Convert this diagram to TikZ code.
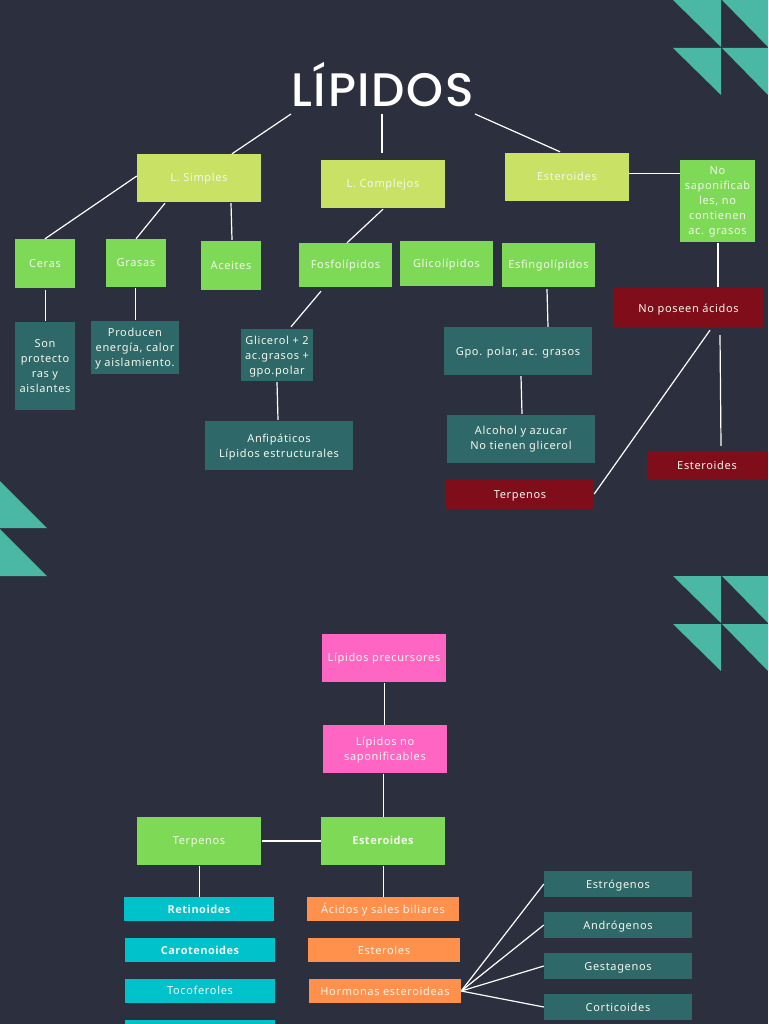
\documentclass[tikz,border=0pt]{standalone}
\usepackage{fontspec}
\setmainfont{Noto Sans}[LetterSpace=6]
\newfontfamily\boldlabel{Open Sans}[LetterSpace=4.5]
\newfontfamily\titlefont{Poppins Medium}[LetterSpace=3.5]
\definecolor{bg}{HTML}{2C2F3E}
\definecolor{tri}{HTML}{4AB8A5}
\definecolor{limeb}{HTML}{C9E265}
\definecolor{greenb}{HTML}{7ED957}
\definecolor{tealb}{HTML}{2F6868}
\definecolor{redb}{HTML}{7F0D1A}
\definecolor{pinkb}{HTML}{FF66C4}
\definecolor{cyanb}{HTML}{00C2CB}
\definecolor{orangeb}{HTML}{FF914D}
\definecolor{txt}{HTML}{F4F7EC}
\tikzset{
  x=1pt,y=-1pt,
  box/.style={inner sep=0pt,align=center,text=txt,text height=9.5pt,text depth=1.5pt,font=\fontsize{11}{15}\selectfont},
  limebox/.style={box,fill=limeb},
  greenbox/.style={box,fill=greenb,text depth=2.5pt},
  tealbox/.style={box,fill=tealb},
  redbox/.style={box,fill=redb},
  pinkbox/.style={box,fill=pinkb,text depth=2.5pt},
  cyanbox/.style={box,fill=cyanb},
  orangebox/.style={box,fill=orangeb},
  multi/.style={text height=,text depth=},
  multilow/.style={text height=,text depth=0pt},
  link/.style={draw=white,line width=1.2pt},
  triangle/.style={fill=tri},
}
\begin{document}
\begin{tikzpicture}
\clip (0,0) rectangle (768,1024);
\fill[bg] (0,0) rectangle (768,1024);
% decorative triangles
\fill[triangle] (673,0) -- (721,0) -- (721,47) -- cycle;
\fill[triangle] (722,0) -- (768,0) -- (768,47) -- cycle;
\fill[triangle] (673,48) -- (721,48) -- (721,95) -- cycle;
\fill[triangle] (722,48) -- (768,48) -- (768,95) -- cycle;
\fill[triangle] (673,576) -- (721,576) -- (721,623) -- cycle;
\fill[triangle] (722,576) -- (768,576) -- (768,623) -- cycle;
\fill[triangle] (673,624) -- (721,624) -- (721,671) -- cycle;
\fill[triangle] (722,624) -- (768,624) -- (768,671) -- cycle;
\fill[triangle] (0,481) -- (47,528) -- (0,528) -- cycle;
\fill[triangle] (0,529) -- (47,576) -- (0,576) -- cycle;
% title
\node[inner sep=0pt,text=white,minimum width=184pt,minimum height=54pt,font=\titlefont\fontsize{47}{50}\selectfont] (title) at (382.5,85) {LÍPIDOS};
\coordinate (titlesw) at (291,114);
\coordinate (titles) at (382,114);
\coordinate (titlese) at (475,114);
% top part
\node[limebox,minimum width=124pt,minimum height=48pt] (simple) at (199,178) {L. Simples};
\node[limebox,minimum width=124pt,minimum height=48pt] (complejos) at (383,184) {L. Complejos};
\node[limebox,minimum width=124pt,minimum height=48pt] (esteroides) at (567,177) {Esteroides};
\node[greenbox,multilow,minimum width=75pt,minimum height=82pt] (nosap) at (717.5,201) {No\\saponificab\\les, no\\contienen\\ac. grasos};
\node[greenbox,minimum width=60pt,minimum height=49pt] (ceras) at (45,263.5) {Ceras};
\node[greenbox,minimum width=60pt,minimum height=48pt] (grasas) at (136,263) {Grasas};
\node[greenbox,minimum width=60pt,minimum height=49pt] (aceites) at (231,265.5) {Aceites};
\node[greenbox,minimum width=93pt,minimum height=44pt] (fosfo) at (345.5,265) {Fosfolípidos};
\node[greenbox,minimum width=93pt,minimum height=45pt] (glico) at (446.5,263.5) {Glicolípidos};
\node[greenbox,minimum width=93pt,minimum height=44pt] (esfingo) at (548.5,265) {Esfingolípidos};
\node[tealbox,multi,minimum width=60pt,minimum height=88pt] (son) at (45,366) {Son\\protecto\\ras y\\aislantes};
\node[tealbox,multilow,minimum width=88pt,minimum height=53pt] (producen) at (135,347.5) {Producen\\energía, calor\\y aislamiento.};
\node[tealbox,multilow,text depth=-1pt,minimum width=72pt,minimum height=52pt] (glicerol) at (277,355) {Glicerol + 2\\ac.grasos +\\gpo.polar};
\node[tealbox,multilow,minimum width=148pt,minimum height=49pt] (anfi) at (279,445.5) {Anfipáticos\\Lípidos estructurales};
\node[tealbox,minimum width=148pt,minimum height=48pt] (gpo) at (518,351) {Gpo. polar, ac. grasos};
\node[tealbox,multi,minimum width=148pt,minimum height=48pt] (alcohol) at (521,439) {Alcohol y azucar\\No tienen glicerol};
\node[redbox,minimum width=148pt,minimum height=29pt] (terpenos) at (520,494.5) {Terpenos};
\node[redbox,minimum width=149pt,minimum height=40pt] (noposeen) at (688.5,308) {No poseen ácidos};
\node[redbox,minimum width=120pt,minimum height=28pt] (est2) at (707,465) {Esteroides};
% bottom part
\node[pinkbox,minimum width=124pt,minimum height=48pt] (precursores) at (384,658) {Lípidos precursores};
\node[pinkbox,multilow,minimum width=124pt,minimum height=48pt] (nosapb) at (385,749) {Lípidos no\\saponificables};
\node[greenbox,minimum width=124pt,minimum height=48pt] (terpb) at (199,841) {Terpenos};
\node[greenbox,minimum width=124pt,minimum height=48pt] (estb) at (383,841) {\boldlabel\bfseries Esteroides};
\node[cyanbox,minimum width=150pt,minimum height=24pt] (retin) at (199,909) {\boldlabel\bfseries Retinoides};
\node[cyanbox,minimum width=150pt,minimum height=24pt] (carot) at (200,950) {\boldlabel\bfseries Carotenoides};
\node[cyanbox,minimum width=150pt,minimum height=24pt,text depth=2.5pt] (toco) at (200,991) {Tocoferoles};
\node[cyanbox,minimum width=150pt,minimum height=24pt] (cyanlast) at (200,1032) {};
\node[orangebox,minimum width=152pt,minimum height=24pt] (acidos) at (383,909) {Ácidos y sales biliares};
\node[orangebox,minimum width=152pt,minimum height=24pt] (esteroles) at (384,950) {Esteroles};
\node[orangebox,minimum width=152pt,minimum height=24pt] (hormonas) at (385,991) {Hormonas esteroideas};
\node[tealbox,minimum width=148pt,minimum height=26pt] (estro) at (618,884) {Estrógenos};
\node[tealbox,minimum width=148pt,minimum height=26pt] (andro) at (618,925) {Andrógenos};
\node[tealbox,minimum width=148pt,minimum height=26pt] (gesta) at (618,966) {Gestagenos};
\node[tealbox,minimum width=148pt,minimum height=26pt] (cortico) at (618,1007) {Corticoides};
% connectors (the reference leaves small gaps at the ends)
\draw[link] (titlesw) -- ([xshift=33pt]simple.north);
\draw[link] (titles) -- ([yshift=7pt,xshift=-1pt]complejos.north);
\draw[link] (titlese) -- ([xshift=-7pt,yshift=1pt]esteroides.north);
\draw[link] ([yshift=2pt]simple.west) -- (ceras.north);
\draw[link] ([xshift=-34pt,yshift=-1pt]simple.south) -- (grasas.north);
\draw[link] ([xshift=32pt,yshift=-1pt]simple.south) -- ([xshift=1pt,yshift=1pt]aceites.north);
\draw[link] ([yshift=-1pt]complejos.south) -- ([xshift=1.5pt]fosfo.north);
\draw[link,line width=1pt] ([yshift=3pt]esteroides.east) -- ([yshift=27pt]nosap.west);
\draw[link,line width=1pt] ([yshift=-2pt]ceras.south) -- ([yshift=1pt]son.north);
\draw[link,line width=1pt] ([xshift=-1pt,yshift=-1pt]grasas.south) -- ([yshift=1pt]producen.north);
\draw[link] ([xshift=-24.5pt,yshift=-4pt]fosfo.south) -- ([xshift=14pt,yshift=2pt]glicerol.north);
\draw[link] ([yshift=-1pt]glicerol.south) -- ([xshift=-1pt,yshift=1pt]anfi.north);
\draw[link] ([xshift=-1.5pt,yshift=-2pt]esfingo.south) -- ([xshift=30pt]gpo.north);
\draw[link] ([xshift=3pt,yshift=-1pt]gpo.south) -- ([xshift=1pt,yshift=1pt]alcohol.north);
\draw[link] ([xshift=.5pt,yshift=-1pt]nosap.south) -- ([xshift=29.5pt,yshift=1pt]noposeen.north);
\draw[link] ([xshift=21.5pt,yshift=-2pt]noposeen.south) -- ([yshift=.5pt]terpenos.east);
\draw[link] ([xshift=31.5pt,yshift=-7pt]noposeen.south) -- ([xshift=14pt,yshift=5pt]est2.north);
\draw[link,line width=1pt] ([yshift=-1pt]precursores.south) -- ([xshift=-1pt]nosapb.north);
\draw[link,line width=1pt] ([xshift=-2pt,yshift=-1pt]nosapb.south) -- (estb.north);
\draw[link] ([xshift=1pt]terpb.east) -- (estb.west);
\draw[link,line width=1pt] ([yshift=-1pt]terpb.south) -- (retin.north);
\draw[link,line width=1pt] ([yshift=-1pt]estb.south) -- (acidos.north);
\draw[link] (hormonas.east) -- (estro.west);
\draw[link] (hormonas.east) -- (andro.west);
\draw[link] (hormonas.east) -- (gesta.west);
\draw[link] (hormonas.east) -- (cortico.west);
\end{tikzpicture}
\end{document}
